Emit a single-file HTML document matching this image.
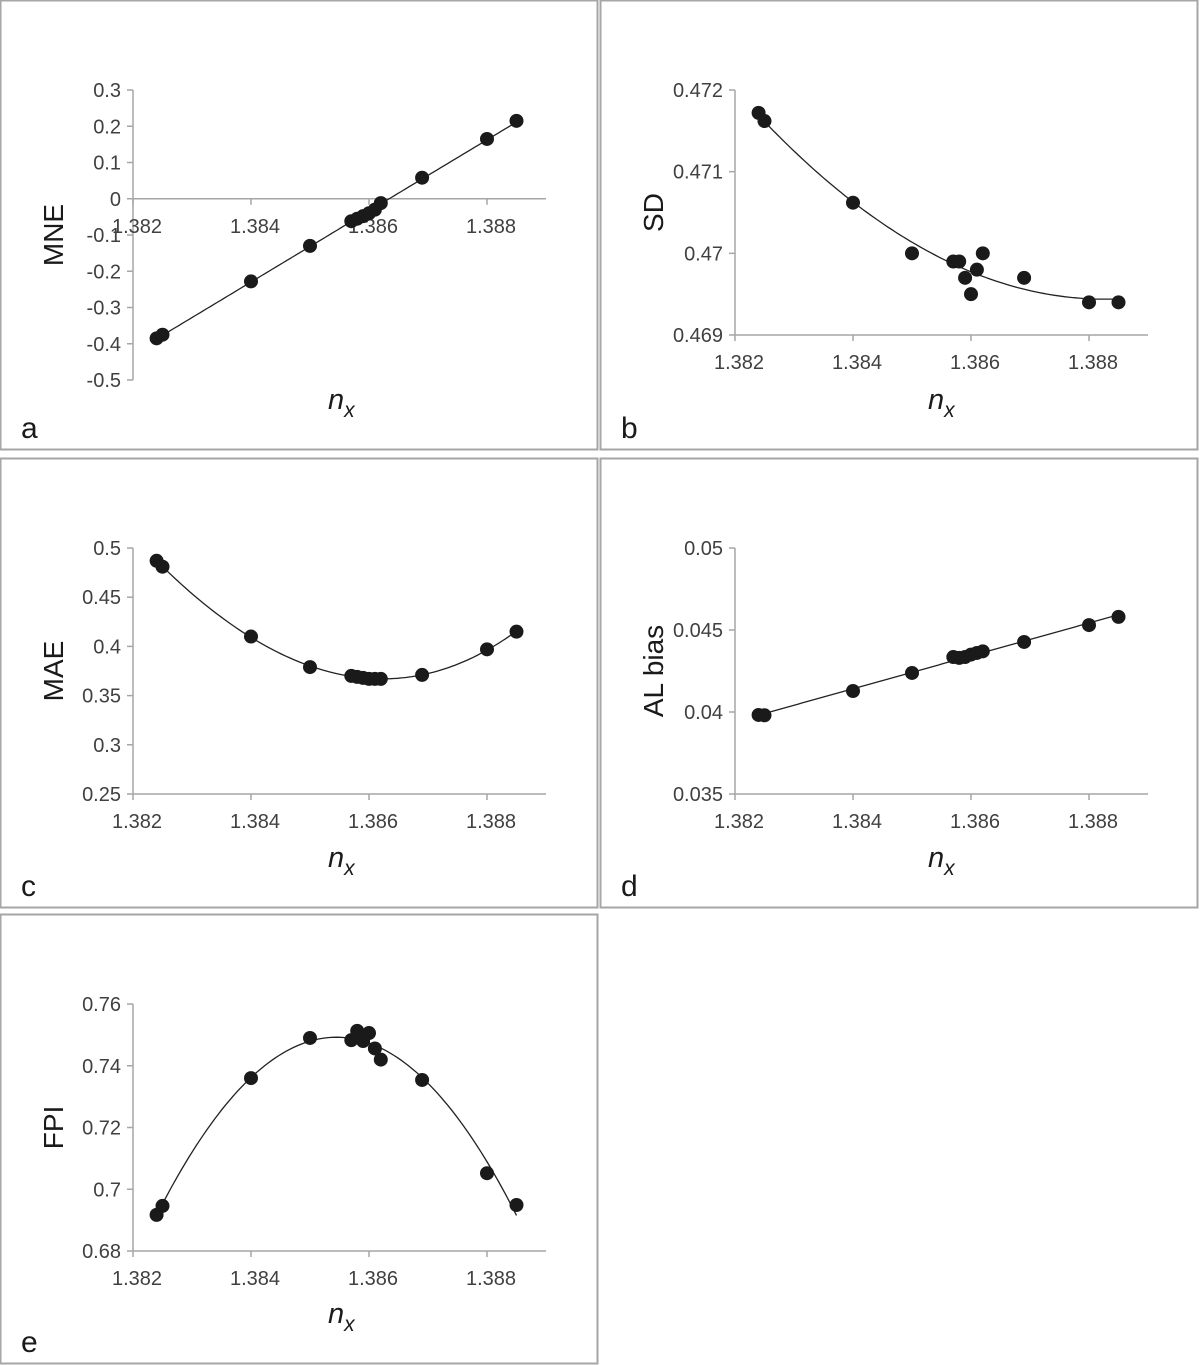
<!DOCTYPE html>
<html><head><meta charset="utf-8">
<style>
html,body{margin:0;padding:0;background:#fff;}
svg{display:block;font-family:"Liberation Sans",Arial,sans-serif;}
</style></head>
<body>
<svg id="fig" width="1200" height="1365" viewBox="0 0 1200 1365" xmlns="http://www.w3.org/2000/svg"></svg>
<script>
const xVals = [1.3824,1.3825,1.384,1.385,1.3857,1.3858,1.3859,1.386,1.3861,1.3862,1.3869,1.388,1.3885];
const mneVals = [-0.385,-0.375,-0.228,-0.13,-0.062,-0.055,-0.048,-0.04,-0.03,-0.012,0.058,0.165,0.215];
const sdVals = [0.47172,0.47162,0.47062,0.4700,0.4699,0.4699,0.4697,0.4695,0.4698,0.4700,0.4697,0.4694,0.4694];
const maeVals = [0.487,0.481,0.41,0.379,0.370,0.369,0.368,0.367,0.367,0.367,0.371,0.397,0.415];
const alVals = [0.03982,0.0398,0.04128,0.04238,0.04335,0.0433,0.04335,0.0435,0.0436,0.0437,0.04427,0.0453,0.0458];
const fpiVals = [0.6917,0.6946,0.736,0.749,0.7483,0.7513,0.748,0.7506,0.7456,0.742,0.7354,0.7052,0.6949];
const xTicks = [1.382,1.384,1.386,1.388];
const mneTicks = [0.3,0.2,0.1,0,-0.1,-0.2,-0.3,-0.4,-0.5];
const sdTicks = [0.472,0.471,0.47,0.469];
const maeTicks = [0.5,0.45,0.4,0.35,0.3,0.25];
const alTicks = [0.05,0.045,0.04,0.035];
const fpiTicks = [0.76,0.74,0.72,0.7,0.68];

const NS="http://www.w3.org/2000/svg";
const svg=document.getElementById('fig');
function mk(tag,attrs,parent){const e=document.createElementNS(NS,tag);for(const k in attrs)e.setAttribute(k,attrs[k]);(parent||svg).appendChild(e);return e;}

function polyfit(xs,ys,deg){
  const n=deg+1, xm=1.386;
  const A=[];for(let i=0;i<n;i++){A.push(new Array(n+1).fill(0));}
  xs.forEach((x,k)=>{const t=(x-xm)*1000;for(let i=0;i<n;i++){for(let j=0;j<n;j++)A[i][j]+=Math.pow(t,i+j);A[i][n]+=Math.pow(t,i)*ys[k];}});
  for(let i=0;i<n;i++){let p=i;for(let r=i+1;r<n;r++)if(Math.abs(A[r][i])>Math.abs(A[p][i]))p=r;[A[i],A[p]]=[A[p],A[i]];
    for(let r=0;r<n;r++){if(r===i)continue;const f=A[r][i]/A[i][i];for(let c=i;c<=n;c++)A[r][c]-=f*A[i][c];}}
  const co=A.map((row,i)=>row[n]/row[i]);
  return x=>{const t=(x-xm)*1000;let s=0;co.forEach((c,i)=>s+=c*Math.pow(t,i));return s;};
}

function panel(cfg){
  const g=mk('g',{});
  
  
  const fr=mk('rect',{x:cfg.bx+0.5,y:cfg.by+0.5,width:597,height:449,fill:'none',stroke:'#a6a6a6','stroke-width':2},g);
  
  
  const x0=cfg.bx+cfg.axX, sx=59000;
  const X=v=>x0+(v-1.382)*sx;
  const yTop=cfg.by+90, yBot=cfg.by+cfg.plotH;
  const tmax=cfg.yTicks[0], tmin=cfg.yTicks[cfg.yTicks.length-1];
  const Y=v=>yTop+(tmax-v)/(tmax-tmin)*(yBot-yTop);
  const xAxisY=cfg.zeroAxis?Y(0):yBot;
  const ya=mk('line',{x1:x0,y1:yTop,x2:x0,y2:yBot,stroke:'#a6a6a6','stroke-width':1.5},g);
  
  
  cfg.yTicks.forEach(t=>{
    mk('line',{x1:x0-6,y1:Y(t),x2:x0,y2:Y(t),stroke:'#a6a6a6','stroke-width':1.5},g);
    const tx=mk('text',{x:x0-12,y:Y(t)+7,'text-anchor':'end','font-size':20,fill:'#404040'},g);
    tx.textContent=String(t);
    
    
  });
  const xa=mk('line',{x1:x0,y1:xAxisY,x2:X(1.389),y2:xAxisY,stroke:'#a6a6a6','stroke-width':1.5},g);
  
  
  xTicks.forEach(t=>{
    mk('line',{x1:X(t),y1:xAxisY,x2:X(t),y2:xAxisY+6,stroke:'#a6a6a6','stroke-width':1.5},g);
    const tx=mk('text',{x:X(t)+4,y:xAxisY+34,'text-anchor':'middle','font-size':20,fill:'#404040'},g);
    tx.textContent=t.toFixed(3);
    
    
  });
  const f=polyfit(xVals,cfg.vals,cfg.deg);
  let d='';for(let i=0;i<=100;i++){const x=1.3824+(1.3885-1.3824)*i/100;d+=(i?'L':'M')+X(x).toFixed(1)+','+Y(f(x)).toFixed(1);}
  const tr=mk('path',{d:d,fill:'none',stroke:'#222','stroke-width':1.3},g);
  
  
  xVals.forEach((x,i)=>{
    const c=mk('circle',{cx:X(x),cy:Y(cfg.vals[i]),r:7,fill:'#1a1a1a'},g);
    
    
  });
  const yt=mk('text',{transform:`translate(${cfg.bx+63},${(yTop+yBot)/2}) rotate(-90)`,'text-anchor':'middle','font-size':28,fill:'#1a1a1a'},g);
  yt.textContent=cfg.yTitle;
  
  
  const xt=mk('text',{x:cfg.bx+328,y:cfg.by+409,'font-size':29,'font-style':'italic',fill:'#1a1a1a'},g);
  xt.innerHTML='n<tspan font-size="21" dy="8">x</tspan>';
  
  
  const lt=mk('text',{x:cfg.bx+21,y:cfg.by+438,'font-size':30,fill:'#1a1a1a'},g);
  lt.textContent=cfg.letter;
  
  
}
panel({letter:'a',bx:0,by:0,axX:133,plotH:380,yTicks:mneTicks,vals:mneVals,deg:1,yTitle:'MNE',zeroAxis:true});
panel({letter:'b',bx:600,by:0,axX:135,plotH:335,yTicks:sdTicks,vals:sdVals,deg:2,yTitle:'SD'});
panel({letter:'c',bx:0,by:458,axX:133,plotH:336,yTicks:maeTicks,vals:maeVals,deg:3,yTitle:'MAE'});
panel({letter:'d',bx:600,by:458,axX:135,plotH:336,yTicks:alTicks,vals:alVals,deg:1,yTitle:'AL bias'});
panel({letter:'e',bx:0,by:914,axX:133,plotH:337,yTicks:fpiTicks,vals:fpiVals,deg:2,yTitle:'FPI'});
</script>
</body></html>
